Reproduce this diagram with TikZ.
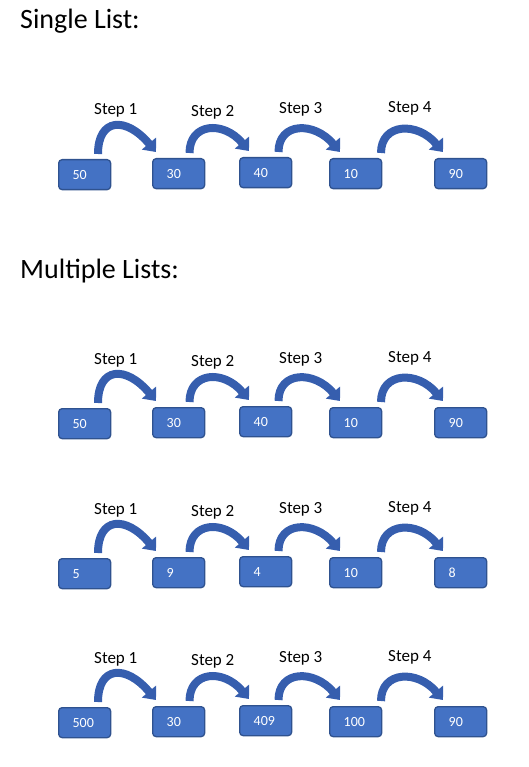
\documentclass[tikz,border=0pt]{standalone}
\usepackage{fontspec}
\setmainfont{Carlito}
\usepackage{tikz}
\usetikzlibrary{arrows.meta}
\definecolor{boxfill}{RGB}{68,114,196}
\definecolor{boxedge}{RGB}{47,82,143}
\definecolor{arrowblue}{RGB}{54,94,174}

\begin{document}
\begin{tikzpicture}[x=1pt, y=-1pt,
    databox/.style={rectangle, rounded corners=3.5pt, fill=boxfill, draw=boxedge,
      line width=1.3pt, minimum width=52pt, minimum height=30pt,
      inner xsep=14pt, text width=24pt, align=left, text=white,
      font=\fontsize{14}{14}\selectfont},
    steplabel/.style={inner sep=0pt, font=\fontsize{17}{17}\selectfont},
    heading/.style={inner sep=0pt, font=\fontsize{28}{28}\selectfont},
    steparrow/.style={draw=arrowblue, line width=8pt,
      -{Triangle[length=11pt, width=18pt]}}]
  \useasboundingbox (0,0) rectangle (528,767);

  \node[heading, anchor=base west] (single) at (20,28.5) {Single List:};
  \node[heading, anchor=base west] (multi) at (20,278.5) {Multiple Lists:};

  % one list per row: vertical offset, then the five values
  \foreach \r/\dy/\va/\vb/\vc/\vd/\ve in {0/0/50/30/40/10/90, 1/249/50/30/40/10/90,
      2/399/5/9/4/10/8, 3/548/500/30/409/100/90} {
    \foreach \k/\bx/\by/\v in {1/58/159/\va, 2/152/158/\vb, 3/239/157/\vc,
        4/329/158/\vd, 5/434/158/\ve}
      \node[databox, anchor=north west] (b\r-\k) at (\bx, \by+\dy) {\v};
    \foreach \k/\sx/\sy in {1/94/115, 2/191/117, 3/279/114, 4/388/113}
      \node[steplabel, anchor=base west] (s\r-\k) at (\sx, \sy+\dy) {Step \k};
    \foreach \k/\n/\ox/\tx/\od/\id in {1/2/40/4/36/47, 2/3/37.5/10/30/40,
        3/4/39.5/11/30/40, 4/5/52/9/30/40}
      \draw[steparrow] ([xshift=\ox pt, yshift=5pt]b\r-\k.north west)
        to[out=90, in=130, out distance=\od pt, in distance=\id pt]
        ([xshift=\tx pt, yshift=6pt]b\r-\n.north west);
  }
\end{tikzpicture}
\end{document}
